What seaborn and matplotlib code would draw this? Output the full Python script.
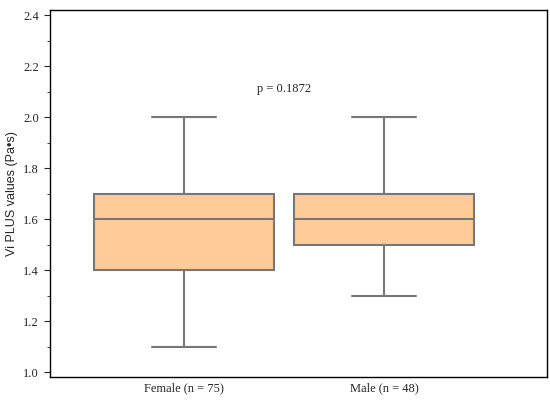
import numpy as np
import pandas as pd
import matplotlib
matplotlib.use("Agg")
import matplotlib.pyplot as plt
import seaborn as sns
from matplotlib.ticker import MultipleLocator

# Sample values chosen so the box statistics match the figure
groups = ["Female (n = 75)", "Male (n = 48)"]
female = [1.1, 1.4, 1.4, 1.6, 1.7, 1.7, 2.0]
male = [1.3, 1.5, 1.5, 1.6, 1.7, 1.7, 2.0]
p_text = "p = 0.1872"

df = pd.DataFrame({
    "group": [groups[0]] * len(female) + [groups[1]] * len(male),
    "value": female + male,
})

sns.set_style("ticks")
plt.rcParams['font.family'] = ['Liberation Serif', 'DejaVu Serif']

fig, ax = plt.subplots(figsize=(5.5, 4.05), dpi=100)
fig.subplots_adjust(left=0.09, right=0.995, bottom=0.068, top=0.975)

sns.boxplot(data=df, x="group", y="value", ax=ax, whis=2, width=0.9,
            color="#FFCC99", saturation=1, linecolor="#777777", linewidth=1.5,
            showfliers=False, capwidths=0.32)

ax.set_ylim(0.98, 2.42)
ax.set_xlim(-0.675, 1.815)
ax.yaxis.set_major_locator(MultipleLocator(0.2))
ax.yaxis.set_minor_locator(MultipleLocator(0.1))
ax.tick_params(axis="y", which="major", direction="out", length=4, labelsize=9)
ax.tick_params(axis="y", which="minor", direction="out", length=2)
ax.tick_params(axis="x", length=0, labelsize=9)
for s in ax.spines.values():
    s.set_visible(True)
    s.set_linewidth(1.0)
    s.set_color("black")

ax.set_xlabel("")
ax.set_ylabel("Vi PLUS values (Pa•s)", family=["Liberation Sans", "DejaVu Sans"], fontsize=9)
ax.text(0.5, 2.11, p_text, ha="center", va="center", fontsize=9)

fig.savefig("out.png", dpi=100)
